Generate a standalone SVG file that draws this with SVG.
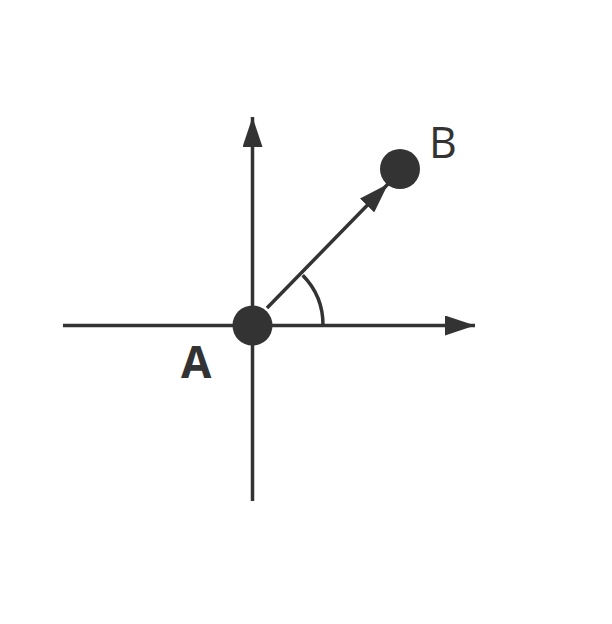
<svg xmlns="http://www.w3.org/2000/svg" width="612" height="624" viewBox="0 0 612 624">
<style>
.ln{stroke:#333333;stroke-width:3.5;fill:none}
.dot{fill:#333333}
.lbl{font-family:"Open Sans","Noto Sans",sans-serif;fill:#333333}
</style>
<defs>
<marker id="ah" viewBox="0 0 30 20" refX="30" refY="10" markerWidth="30" markerHeight="20" markerUnits="userSpaceOnUse" orient="auto">
<path d="M0,0 L30,10 L0,20 Z" fill="#333333"/>
</marker>
</defs>
<rect width="612" height="624" fill="#ffffff"/>
<g id="connectors">
<line class="ln" x1="63" y1="325.5" x2="475" y2="325.5" marker-end="url(#ah)"/>
<line class="ln" x1="252.5" y1="501" x2="252.5" y2="117" marker-end="url(#ah)"/>
<line class="ln" x1="267" y1="308" x2="388" y2="184" marker-end="url(#ah)"/>
<path class="ln" d="M323,325.5 A71,71 0 0 0 302.7,275.3"/>
</g>
<g id="A">
<circle class="dot" cx="252.5" cy="325.5" r="20"/>
<text class="lbl" x="181" y="378" font-size="44" font-weight="bold">A</text>
</g>
<g id="B">
<circle class="dot" cx="400" cy="169" r="20"/>
<text class="lbl" x="429" y="158" font-size="43">B</text>
</g>
</svg>
